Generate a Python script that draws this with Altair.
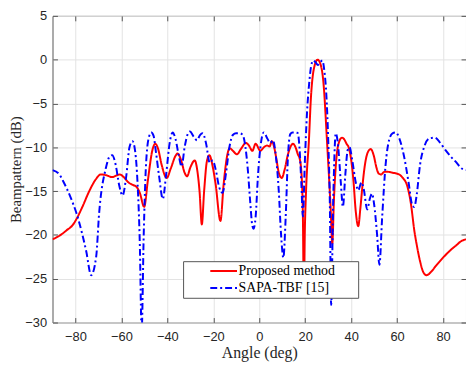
import altair as alt
import pandas as pd

series_names = ["Proposed method", "SAPA-TBF [15]"]
series_colors = ["#ff0000", "#0000ff"]

x_ticks = [-80, -60, -40, -20, 0, 20, 40, 60, 80]
y_ticks = [-30, -25, -20, -15, -10, -5, 0, 5]

prop_angle = [-90, -87, -84, -81, -79.6, -77, -74, -71, -69, -66.5, -64, -62, -60.7, -59, -57, -55, -53.5, -52,
              -50.1, -48.5, -46.5, -45.3, -44, -42.5, -40.3, -38.5, -36.5, -35.6, -34, -32.5, -31.4, -30, -28.1,
              -27, -26, -25, -24, -22.8, -21.7, -20.5, -19, -16.9, -15.5, -14, -12.9, -11.5, -9.7, -8, -5.8,
              -4.5, -3, -1.6, 0.5, 2, 3.4, 4.5, 5.5, 6.5, 7.5, 8.5, 9.8, 11, 12.5, 13.5, 14.7, 15.8, 16.8, 17.6,
              18.5, 19, 19.4, 19.8, 20.3, 20.8, 21.5, 22.5, 23.8, 25.4, 26.5, 27.9, 29.6, 31.1, 31.8, 32.5, 33.5,
              34.5, 36, 37, 38, 38.9, 40, 41, 42, 43.1, 44, 45, 46, 47.2, 48.5, 49.8, 51, 52, 53, 54.5, 55.9, 58,
              60.9, 62.5, 64.4, 66, 67.5, 68.6, 70, 71.5, 72.9, 74.5, 77, 80, 83, 85.7, 88, 90]
prop_db = [-20.5, -20.1, -19.5, -18.8, -18.2, -16.8, -15.0, -13.6, -13.1, -13.2, -13.4, -13.2, -13.1, -13.4, -14.0,
           -14.3, -14.5, -15.2, -16.8, -13.8, -10.3, -9.6, -10.2, -12.0, -13.5, -12.4, -11.0, -10.7, -11.5, -12.9,
           -13.3, -12.3, -11.5, -12.6, -15.0, -18.8, -15.0, -11.6, -10.9, -11.9, -14.2, -18.4, -14.2, -11.0, -10.1,
           -10.4, -10.8, -10.2, -9.5, -9.8, -10.4, -9.6, -10.4, -10.0, -9.8, -9.9, -9.3, -10.0, -11.4, -12.9, -13.5,
           -12.6, -10.8, -10.0, -9.6, -10.0, -10.8, -11.3, -13.5, -18.0, -27.0, -20.0, -15.5, -12.5, -9.8, -4.3,
           -1.0, 0.0, -0.4, -2.5, -9.8, -17.1, -21.0, -16.0, -11.5, -9.6, -8.9, -9.1, -9.6, -10.0, -11.4, -13.8,
           -17.3, -19.0, -17.0, -14.2, -12.0, -10.6, -10.2, -10.9, -12.3, -13.0, -13.1, -12.8, -12.8, -12.9, -13.1,
           -13.5, -14.4, -16.4, -19.5, -21.2, -23.0, -24.3, -24.6, -24.3, -23.5, -22.6, -21.8, -21.2, -20.7, -20.5]

sapa_angle = [-90, -87, -85.3, -82, -79.6, -75.3, -73.2, -71, -69.7, -66.8, -65, -64, -62.5, -61, -59.5, -58, -56.5,
              -55.2, -54, -53, -52, -51.2, -50.3, -49.3, -48, -47, -46, -45, -43.5, -42, -40.5, -39, -37.7, -36.5,
              -35, -33.8, -32.5, -31, -30.2, -28.5, -27.1, -25.8, -24.6, -23.2, -21.5, -20.3, -19, -17.5, -16, -14.5,
              -13, -11.5, -10.1, -8.5, -7.2, -6, -5, -4, -3, -2.5, -1.6, -0.5, 0.5, 2.0, 3.5, 4.8, 6, 7, 8.5, 9.5,
              10.5, 11.5, 12.5, 13.5, 14.5, 16, 16.8, 17.5, 18.3, 19.0, 19.8, 20.8, 21.8, 22.6, 23.5, 24.5, 25.5,
              26.5, 27.5, 28.3, 29.2, 30, 30.7, 31.3, 32.2, 33.3, 34.2, 35.5, 36.4, 37.5, 38.5, 39.3, 40.5, 42, 43.1,
              44.5, 45.5, 47, 48.2, 49.1, 50, 51.3, 52.3, 53.5, 55, 56.5, 58, 59.4, 61, 63, 65, 66.5, 67.5, 68.5,
              70, 72, 74, 76.4, 78.5, 81, 83.5, 85.7, 88, 90]
sapa_db = [-12.6, -13.1, -13.9, -15.8, -17.5, -21.9, -24.6, -22.5, -17.5, -12.4, -11.0, -10.9, -12.0, -14.3, -15.5,
           -13.5, -10.0, -9.3, -10.5, -14.0, -21.0, -31.0, -20.0, -12.0, -8.8, -8.3, -8.7, -10.5, -13.5, -15.9,
           -13.0, -9.5, -8.3, -9.0, -11.0, -12.2, -10.0, -8.4, -8.2, -8.8, -9.2, -8.6, -8.4, -9.5, -11.8, -11.5,
           -12.5, -14.5, -15.2, -13.0, -10.0, -8.6, -8.4, -8.4, -8.6, -10.0, -12.5, -16.0, -19.0, -19.3, -18.0,
           -13.0, -10.0, -8.3, -9.0, -9.5, -9.2, -10.5, -15.0, -20.0, -22.6, -18.0, -11.0, -8.5, -8.3, -8.3, -8.4,
           -10.0, -14.0, -17.9, -12.0, -6.0, -2.5, -0.7, -0.1, -0.3, -0.6, -0.3, -0.1, -1.2, -4.0, -9.0, -16.0,
           -28.0, -16.0, -8.4, -9.5, -14.0, -16.8, -13.0, -10.3, -10.0, -11.5, -14.0, -14.9, -14.0, -14.8, -17.1,
           -15.8, -15.3, -16.5, -20.0, -23.4, -18.0, -12.0, -9.2, -8.4, -8.3, -9.0, -11.0, -14.0, -16.5, -16.8,
           -15.5, -12.0, -9.8, -9.0, -8.9, -9.4, -10.3, -11.1, -11.7, -12.4, -12.6]

df = pd.concat([
    pd.DataFrame({"angle": prop_angle, "db": prop_db, "method": series_names[0]}),
    pd.DataFrame({"angle": sapa_angle, "db": sapa_db, "method": series_names[1]}),
], ignore_index=True)

W, H = 418, 310
FRAME = "#555555"

pad = "\u2800" * 2
legend = alt.Legend(
    title=None, orient="none", legendX=132, legendY=248,
    symbolType="M-3,0H3", symbolSize=81, symbolStrokeWidth=2,
    symbolOffset=31, labelOffset=8, labelLimit=400,
    labelFont="Liberation Serif", labelFontSize=14, labelColor="black",
    labelExpr="datum.label + '" + pad + "'",
    strokeColor=FRAME, fillColor="white", padding=3, rowPadding=3,
)

xscale = alt.Scale(domain=[-90, 90], nice=False, zero=False)
yscale = alt.Scale(domain=[-30, 5], nice=False, zero=False)

lines = alt.Chart(df).mark_line(interpolate="monotone", strokeWidth=2, clip=True).encode(
    x=alt.X("angle:Q", scale=xscale,
            axis=alt.Axis(values=x_ticks, title="Angle (deg)", labelPadding=8, titlePadding=1)),
    y=alt.Y("db:Q", scale=yscale,
            axis=alt.Axis(values=y_ticks, title="Beampattern (dB)", labelPadding=6, titlePadding=1,
                          titleFontSize=15)),
    color=alt.Color("method:N", scale=alt.Scale(domain=series_names, range=series_colors), legend=legend),
    strokeDash=alt.StrokeDash("method:N", scale=alt.Scale(domain=series_names, range=[[1, 0], [7, 3, 2, 3]]),
                              legend=legend),
)


def tick_axis(orient, offset, values):
    return alt.Axis(orient=orient, offset=offset, values=values, labels=False, ticks=True, tickSize=5,
                    tickColor=FRAME, tickWidth=1, grid=False, domain=False, title=None)


# inward ticks on bottom/left
ticks_a = alt.Chart(df).mark_point(opacity=0).encode(
    x=alt.X("angle:Q", scale=xscale, axis=tick_axis("top", -H, x_ticks)),
    y=alt.Y("db:Q", scale=yscale, axis=tick_axis("right", -W, y_ticks)),
)
# inward ticks on top/right
ticks_b = alt.Chart(df).mark_point(opacity=0).encode(
    x=alt.X("angle:Q", scale=xscale, axis=tick_axis("bottom", -H, x_ticks)),
    y=alt.Y("db:Q", scale=yscale, axis=tick_axis("left", -W, y_ticks)),
)

chart = alt.layer(lines, ticks_a, ticks_b).resolve_axis(
    x="independent", y="independent"
).properties(
    width=W, height=H,
    autosize=alt.AutoSizeParams(type="none"),
    padding={"left": 45, "top": 6, "right": 0, "bottom": 42},
).configure_view(
    stroke=FRAME, strokeWidth=1
).configure_axis(
    labelFont="Liberation Sans", labelFontSize=13, labelColor="#262626",
    titleFont="Liberation Serif", titleFontSize=16, titleFontWeight="normal", titleColor="#262626",
    ticks=False, domain=False, grid=True, gridColor="#e3e3e3", gridWidth=1,
)

chart.save("out.html", embed_options={"renderer": "svg", "actions": False})
